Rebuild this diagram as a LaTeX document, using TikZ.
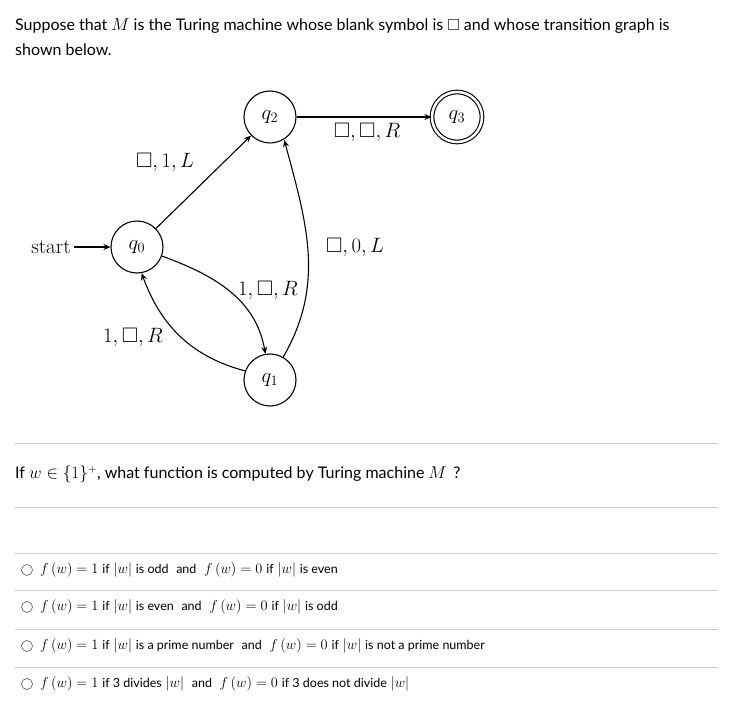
\documentclass[tikz,border=0pt]{standalone}
\usepackage{amssymb}
\usepackage{fontspec}
\setmainfont{Lato}
\newfontfamily\lmr{Latin Modern Roman}
\usetikzlibrary{arrows.meta}
\newcommand{\sm}[1]{{\fontsize{12.5}{14}\selectfont #1}}
\begin{document}
\begin{tikzpicture}[x=1pt,y=-1pt,
  st/.style={circle,draw,line width=1.1pt,minimum size=52pt,inner sep=0pt,font=\fontsize{21}{21}\selectfont},
  acc/.style={st,double,double distance=2.5pt,minimum size=50pt},
  lab/.style={font=\fontsize{21}{21}\selectfont},
  tx/.style={anchor=west,font=\fontsize{16}{18}\selectfont,inner sep=0pt},
  opt/.style={anchor=west,font=\fontsize{15}{17}\selectfont,inner sep=0pt},
  sep/.style={draw=black!20,line width=0.8pt},
  ed/.style={draw,line width=1.1pt,-{Stealth[length=7pt,width=6pt]}}]
\useasboundingbox (0,0) rectangle (732,711);
\node[tx] (t1) at (15,26) {Suppose that $M$ is the Turing machine whose blank symbol is $\square$ and whose transition graph is};
\node[tx] (t2) at (15,50) {shown below.};
\node[st] (q0) at (137,247) {$q_0$};
\node[st] (q2) at (270,117) {$q_2$};
\node[st] (q1) at (270,380) {$q_1$};
\node[acc] (q3) at (457,117) {$q_3$};
\node[lab] (s) at (51,247) {\lmr start};
\draw[ed] (s) -- (q0);
\draw[ed] (q0) -- (q2);
\draw[ed] (q2) -- (q3);
\draw[ed] (q1.60) to[out=60,in=-75,looseness=1] ([xshift=1pt]q2.-60);
\draw[ed] (q0.-20) to[out=-20,in=100] (q1.100);
\draw[ed] (q1.160) to[out=165,in=-70] (q0.-80);
\node[lab] at (165,162) {$\square,1,L$};
\node[lab] at (367,132) {$\square,\square,R$};
\node[lab] at (355,247) {$\square,0,L$};
\node[lab] at (268,290) {$1,\square,R$};
\node[lab] at (133,337) {$1,\square,R$};
\draw[sep] (15,443) -- (718,443);
\node[tx] (qq) at (15,474) {If $w\in\{1\}^{+}$, what function is computed by Turing machine $M$\, ?};
\draw[sep] (15,507) -- (718,507);
\foreach \y in {553,590,629,667} \draw[sep] (15,\y) -- (718,\y);
\foreach \y in {570,607,646,684} \draw[black!60,line width=0.7pt] (27,\y) circle (5.5pt);
\node[opt] at (40,570) {$f\left(w\right)=1$ \sm{if} $|w|$ \sm{is odd} \ \sm{and} \ $f\left(w\right)=0$ \sm{if} $|w|$ \sm{is even}};
\node[opt] at (40,607) {$f\left(w\right)=1$ \sm{if} $|w|$ \sm{is even} \ \sm{and} \ $f\left(w\right)=0$ \sm{if} $|w|$ \sm{is odd}};
\node[opt] at (40,646) {$f\left(w\right)=1$ \sm{if} $|w|$ \sm{is a prime number} \ \sm{and} \ $f\left(w\right)=0$ \sm{if} $|w|$ \sm{is not a prime number}};
\node[opt] at (40,684) {$f\left(w\right)=1$ \sm{if 3 divides} $|w|$ \ \sm{and} \ $f\left(w\right)=0$ \sm{if 3 does not divide} $|w|$};
\end{tikzpicture}
\end{document}
